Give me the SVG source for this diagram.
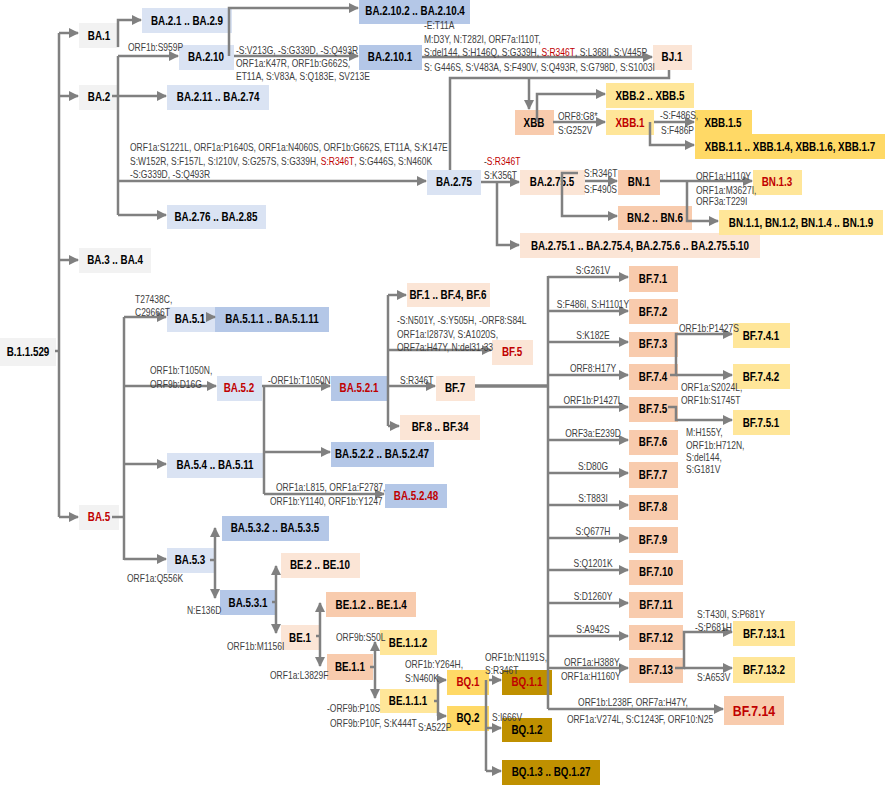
<svg xmlns="http://www.w3.org/2000/svg" width="887" height="786" viewBox="0 0 887 786">
<style>
text{font-family:"Liberation Sans",Arial,sans-serif;transform-box:fill-box}
.n{font-size:12px;font-weight:bold;text-anchor:middle;fill:#000;transform-origin:center;transform:scaleX(.82)}
.r{fill:#c00000}
.l{font-size:10px;fill:#404040;transform-origin:left center;transform:scaleX(.85)}
.l.m{text-anchor:middle;transform-origin:center}
.gr{fill:#f2f2f2}.lb{fill:#dae3f3}.mb{fill:#b4c7e7}.lp{fill:#fbe5d6}.pe{fill:#f8cbad}.lg{fill:#ffe699}.go{fill:#ffd966}.dg{fill:#bf9000}
.c path{fill:none;stroke:#808080;stroke-width:2.5}
.c path.a{marker-end:url(#ar)}
.c path.t{stroke-width:3.5}
</style>
<defs><marker id="ar" markerUnits="userSpaceOnUse" markerWidth="10" markerHeight="10" viewBox="0 0 10 10" refX="9" refY="5" orient="auto"><path d="M0,0L10,5L0,10z" fill="#808080"/></marker></defs>
<rect width="887" height="786" fill="#fff"/>
<g id="nodes">
<g id="n-root"><rect class="gr" x="0" y="338" width="56" height="28"/><text class="n" x="28" y="356">B.1.1.529</text></g>
<g id="n-ba1"><rect class="gr" x="79" y="23" width="40" height="25"/><text class="n" x="99" y="40">BA.1</text></g>
<g id="n-ba2"><rect class="gr" x="79" y="85" width="40" height="25"/><text class="n" x="99" y="101">BA.2</text></g>
<g id="n-ba34"><rect class="gr" x="79" y="248" width="72" height="25"/><text class="n" x="115" y="264">BA.3 .. BA.4</text></g>
<g id="n-ba5"><rect class="gr" x="79" y="505" width="40" height="25"/><text class="n r" x="99" y="521">BA.5</text></g>
<g id="n-ba21"><rect class="lb" x="142" y="8" width="90" height="25"/><text class="n" x="187" y="25">BA.2.1 .. BA.2.9</text></g>
<g id="n-ba210"><rect class="lb" x="179" y="45" width="55" height="25"/><text class="n" x="206" y="61">BA.2.10</text></g>
<g id="n-ba211"><rect class="lb" x="167" y="85" width="102" height="25"/><text class="n" x="218" y="101">BA.2.11 .. BA.2.74</text></g>
<g id="n-ba2102"><rect class="mb" x="359" y="0" width="111" height="24"/><text class="n" x="415" y="15">BA.2.10.2 .. BA.2.10.4</text></g>
<g id="n-ba2101"><rect class="mb" x="359" y="45" width="63" height="25"/><text class="n" x="390" y="61">BA.2.10.1</text></g>
<g id="n-bj1"><rect class="lp" x="653" y="45" width="39" height="25"/><text class="n" x="672" y="61">BJ.1</text></g>
<g id="n-ba275"><rect class="lb" x="427" y="170" width="54" height="25"/><text class="n" x="454" y="186">BA.2.75</text></g>
<g id="n-ba276"><rect class="lb" x="167" y="205" width="99" height="24"/><text class="n" x="216" y="221">BA.2.76 .. BA.2.85</text></g>
<g id="n-xbb"><rect class="pe" x="515" y="110" width="39" height="25"/><text class="n" x="534" y="127">XBB</text></g>
<g id="n-xbb2"><rect class="lg" x="606" y="83" width="88" height="25"/><text class="n" x="650" y="100">XBB.2 .. XBB.5</text></g>
<g id="n-xbb1"><rect class="lg" x="606" y="110" width="48" height="25"/><text class="n r" x="630" y="127">XBB.1</text></g>
<g id="n-xbb15"><rect class="go" x="695" y="110" width="57" height="25"/><text class="n" x="723" y="127">XBB.1.5</text></g>
<g id="n-xbb11"><rect class="go" x="695" y="134" width="190" height="25"/><text class="n" x="790" y="151">XBB.1.1 .. XBB.1.4, XBB.1.6, XBB.1.7</text></g>
<g id="n-ba2755"><rect class="lp" x="520" y="170" width="65" height="25"/><text class="n" x="552" y="186">BA.2.75.5</text></g>
<g id="n-ba2751"><rect class="lp" x="520" y="233" width="240" height="25"/><text class="n" x="640" y="250">BA.2.75.1 .. BA.2.75.4, BA.2.75.6 .. BA.2.75.5.10</text></g>
<g id="n-bn1"><rect class="pe" x="618" y="170" width="42" height="25"/><text class="n" x="639" y="186">BN.1</text></g>
<g id="n-bn2"><rect class="pe" x="618" y="206" width="74" height="24"/><text class="n" x="655" y="222">BN.2 .. BN.6</text></g>
<g id="n-bn13"><rect class="lg" x="753" y="170" width="49" height="25"/><text class="n r" x="777" y="186">BN.1.3</text></g>
<g id="n-bn11"><rect class="lg" x="719" y="210" width="164" height="25"/><text class="n" x="801" y="227">BN.1.1, BN.1.2, BN.1.4 .. BN.1.9</text></g>
<g id="n-ba51"><rect class="lb" x="167" y="307" width="48" height="25"/><text class="n" x="190" y="323">BA.5.1</text></g>
<g id="n-ba511"><rect class="mb" x="215" y="307" width="114" height="25"/><text class="n" x="272" y="323">BA.5.1.1 .. BA.5.1.11</text></g>
<g id="n-ba52"><rect class="lb" x="217" y="376" width="45" height="25"/><text class="n r" x="239" y="392">BA.5.2</text></g>
<g id="n-ba521"><rect class="mb" x="331" y="376" width="57" height="25"/><text class="n r" x="359" y="392">BA.5.2.1</text></g>
<g id="n-ba522"><rect class="mb" x="331" y="442" width="103" height="25"/><text class="n" x="382" y="458">BA.5.2.2 .. BA.5.2.47</text></g>
<g id="n-ba5248"><rect class="mb" x="385" y="484" width="62" height="24"/><text class="n r" x="416" y="500">BA.5.2.48</text></g>
<g id="n-ba54"><rect class="lb" x="167" y="453" width="97" height="25"/><text class="n" x="215" y="469">BA.5.4 .. BA.5.11</text></g>
<g id="n-bf1"><rect class="lp" x="407" y="283" width="83" height="24"/><text class="n" x="448" y="299">BF.1 .. BF.4, BF.6</text></g>
<g id="n-bf5"><rect class="lp" x="492" y="340" width="41" height="25"/><text class="n r" x="512" y="356">BF.5</text></g>
<g id="n-bf7"><rect class="lp" x="436" y="376" width="39" height="25"/><text class="n" x="455" y="392">BF.7</text></g>
<g id="n-bf8"><rect class="lp" x="400" y="415" width="80" height="25"/><text class="n" x="440" y="431">BF.8 .. BF.34</text></g>
<g id="n-bf71"><rect class="pe" x="629" y="266" width="49" height="26"/><text class="n" x="653" y="283">BF.7.1</text></g>
<g id="n-bf72"><rect class="pe" x="629" y="299" width="49" height="25"/><text class="n" x="653" y="316">BF.7.2</text></g>
<g id="n-bf73"><rect class="pe" x="629" y="332" width="49" height="25"/><text class="n" x="653" y="348">BF.7.3</text></g>
<g id="n-bf74"><rect class="pe" x="629" y="364" width="49" height="26"/><text class="n" x="653" y="381">BF.7.4</text></g>
<g id="n-bf75"><rect class="pe" x="629" y="397" width="49" height="25"/><text class="n" x="653" y="413">BF.7.5</text></g>
<g id="n-bf76"><rect class="pe" x="629" y="430" width="49" height="25"/><text class="n" x="653" y="446">BF.7.6</text></g>
<g id="n-bf77"><rect class="pe" x="629" y="462" width="49" height="26"/><text class="n" x="653" y="479">BF.7.7</text></g>
<g id="n-bf78"><rect class="pe" x="629" y="495" width="49" height="25"/><text class="n" x="653" y="511">BF.7.8</text></g>
<g id="n-bf79"><rect class="pe" x="629" y="527" width="49" height="26"/><text class="n" x="653" y="544">BF.7.9</text></g>
<g id="n-bf710"><rect class="pe" x="629" y="560" width="54" height="25"/><text class="n" x="656" y="576">BF.7.10</text></g>
<g id="n-bf711"><rect class="pe" x="629" y="592" width="54" height="26"/><text class="n" x="656" y="609">BF.7.11</text></g>
<g id="n-bf712"><rect class="pe" x="629" y="625" width="54" height="25"/><text class="n" x="656" y="642">BF.7.12</text></g>
<g id="n-bf713"><rect class="pe" x="629" y="658" width="54" height="25"/><text class="n" x="656" y="674">BF.7.13</text></g>
<g id="n-bf714"><rect class="pe" x="724" y="696" width="60" height="29"/><text class="n r" x="754" y="716" style="font-size:15px">BF.7.14</text></g>
<g id="n-bf741"><rect class="lg" x="733" y="323" width="57" height="25"/><text class="n" x="761" y="340">BF.7.4.1</text></g>
<g id="n-bf742"><rect class="lg" x="733" y="364" width="57" height="25"/><text class="n" x="761" y="381">BF.7.4.2</text></g>
<g id="n-bf751"><rect class="lg" x="733" y="410" width="57" height="25"/><text class="n" x="761" y="427">BF.7.5.1</text></g>
<g id="n-bf7131"><rect class="lg" x="733" y="621" width="62" height="25"/><text class="n" x="764" y="638">BF.7.13.1</text></g>
<g id="n-bf7132"><rect class="lg" x="733" y="657" width="62" height="26"/><text class="n" x="764" y="674">BF.7.13.2</text></g>
<g id="n-ba53"><rect class="lb" x="167" y="548" width="47" height="25"/><text class="n" x="190" y="564">BA.5.3</text></g>
<g id="n-ba532"><rect class="mb" x="222" y="516" width="107" height="25"/><text class="n" x="275" y="532">BA.5.3.2 .. BA.5.3.5</text></g>
<g id="n-ba531"><rect class="mb" x="220" y="590" width="57" height="25"/><text class="n" x="248" y="607">BA.5.3.1</text></g>
<g id="n-be2"><rect class="lp" x="281" y="553" width="79" height="25"/><text class="n" x="320" y="569">BE.2 .. BE.10</text></g>
<g id="n-be1"><rect class="lp" x="281" y="625" width="39" height="25"/><text class="n" x="300" y="642">BE.1</text></g>
<g id="n-be12"><rect class="pe" x="326" y="592" width="90" height="25"/><text class="n" x="371" y="609">BE.1.2 .. BE.1.4</text></g>
<g id="n-be11"><rect class="pe" x="327" y="654" width="46" height="26"/><text class="n" x="350" y="671">BE.1.1</text></g>
<g id="n-be112"><rect class="lg" x="380" y="630" width="57" height="25"/><text class="n" x="408" y="647">BE.1.1.2</text></g>
<g id="n-be111"><rect class="lg" x="380" y="689" width="57" height="24"/><text class="n" x="408" y="705">BE.1.1.1</text></g>
<g id="n-bq1"><rect class="go" x="447" y="670" width="42" height="25"/><text class="n r" x="468" y="686">BQ.1</text></g>
<g id="n-bq2"><rect class="go" x="447" y="706" width="42" height="25"/><text class="n" x="468" y="722">BQ.2</text></g>
<g id="n-bq11"><rect class="dg" x="502" y="670" width="50" height="25"/><text class="n r" x="527" y="686">BQ.1.1</text></g>
<g id="n-bq12"><rect class="dg" x="502" y="718" width="50" height="24"/><text class="n" x="527" y="734">BQ.1.2</text></g>
<g id="n-bq13"><rect class="dg" x="502" y="760" width="98" height="25"/><text class="n" x="551" y="776">BQ.1.3 .. BQ.1.27</text></g>
</g>
<g id="connectors" class="c">
<path d="M55,351H59"/><path d="M59,33V517"/>
<path class="a" d="M59,33H78"/><path class="a" d="M59,96H78"/><path class="a" d="M59,260H78"/><path class="a" d="M59,517H78"/>
<path class="a" d="M118,47V20H141"/><path class="a" d="M112,96H166"/>
<path d="M118,56V215"/><path class="a" d="M118,56H178"/><path class="a" d="M118,181H426"/><path class="a" d="M118,215H166"/>
<path class="a" d="M229,56V8H358"/><path class="a" d="M234,56H358"/>
<path class="a" d="M422,57H652"/>
<path d="M669,70V78H450V170"/><path class="a" d="M529,78V109"/>
<path class="a" d="M537,122V94H605"/><path class="a" d="M553,122H605"/>
<path class="a" d="M654,122H694"/><path class="a" d="M650,122V145H694"/>
<path class="a" d="M481,182H519"/><path class="a" d="M497,182V245H519"/>
<path class="a" d="M585,181H617"/><path class="a" d="M578,173H562V216H617"/>
<path class="a" d="M660,181H752"/><path class="a" d="M687,181V221H718"/>
<path d="M112,517H124"/><path d="M124,317V560"/>
<path class="a" d="M124,317H166"/><path class="a" d="M124,386H216"/><path class="a" d="M124,464H166"/><path class="a" d="M124,559H166"/>
<path class="a" d="M208,317H215"/>
<path class="a" d="M262,386H330"/><path d="M264,386V494"/><path class="a" d="M264,452H330"/><path class="a" d="M264,494H384"/>
<path class="a" d="M388,386H435"/><path d="M388,295V426"/><path class="a" d="M388,295H406"/><path class="a" d="M388,350H491"/><path class="a" d="M388,426H399"/>
<path class="t" d="M475,386H548"/><path d="M548,276V709"/>
<path class="a" d="M548,277H628"/><path class="a" d="M548,311H628"/><path class="a" d="M548,342H628"/><path class="a" d="M548,375H628"/><path class="a" d="M548,407H628"/><path class="a" d="M548,440H628"/><path class="a" d="M548,473H628"/><path class="a" d="M548,505H628"/><path class="a" d="M548,538H628"/><path class="a" d="M548,570H628"/><path class="a" d="M548,603H628"/><path class="a" d="M548,636H628"/><path class="a" d="M548,668H628"/><path class="a" d="M548,709H723"/>
<path class="a" d="M670,375H676V334H732"/><path class="a" d="M676,375H732"/>
<path class="a" d="M668,407H676V420H732"/>
<path class="a" d="M675,668H684V632H732"/><path class="a" d="M684,668H732"/>
<path d="M210,560H215"/><path class="a" d="M215,560V528"/><path class="a" d="M215,560V598"/>
<path d="M272,602H276"/><path class="a" d="M276,602V566"/><path class="a" d="M276,602V633"/>
<path d="M316,636H320"/><path class="a" d="M320,636V603"/><path class="a" d="M320,636V666"/>
<path d="M370,667H375"/><path class="a" d="M375,667V642"/><path class="a" d="M375,667V698"/>
<path d="M434,701H438"/><path d="M438,680V716"/><path class="a" d="M438,680H446"/><path class="a" d="M438,716H446"/>
<path class="a" d="M489,680H501"/><path d="M486,680V771"/><path class="a" d="M486,728H501"/><path class="a" d="M486,771H501"/>
</g>
<g id="labels">
<text class="l" x="128" y="51">ORF1b:S959P</text>
<text class="l" x="236" y="54">-S:V213G, -S:G339D, -S:Q493R</text>
<text class="l" x="236" y="67">ORF1a:K47R, ORF1b:G662S,</text>
<text class="l" x="236" y="80">ET11A, S:V83A, S:Q183E, SV213E</text>
<text class="l" x="424" y="29">-E:T11A</text>
<text class="l" x="424" y="43">M:D3Y, N:T282I, ORF7a:I110T,</text>
<text class="l" x="424" y="56">S:del144, S:H146Q, S:G339H, <tspan class="r">S:R346T</tspan>, S:L368I, S:V445P</text>
<text class="l" x="424" y="71">S: G446S, S:V483A, S:F490V, S:Q493R, S:G798D, S:S1003I</text>
<text class="l" x="130" y="151">ORF1a:S1221L, ORF1a:P1640S, ORF1a:N4060S, ORF1b:G662S, ET11A, S:K147E</text>
<text class="l" x="130" y="165">S:W152R, S:F157L, S:I210V, S:G257S, S:G339H, <tspan class="r">S:R346T</tspan>, S:G446S, S:N460K</text>
<text class="l" x="130" y="178">-S:G339D, -S:Q493R</text>
<text class="l" x="558" y="120">ORF8:G8*</text><text class="l" x="558" y="134">S:G252V</text>
<text class="l" x="660" y="119">-S:F486S,</text><text class="l" x="661" y="134">S:F486P</text>
<text class="l" x="484" y="165">-<tspan class="r">S:R346T</tspan></text><text class="l" x="484" y="179">S:K356T</text>
<text class="l r" x="584" y="177">S:R346T</text><text class="l" x="584" y="193">S:F490S</text>
<text class="l" x="696" y="180">ORF1a:H110Y</text><text class="l" x="696" y="194">ORF1a:M3627I,</text><text class="l" x="696" y="205">ORF3a:T229I</text>
<text class="l" x="135" y="303">T27438C,</text><text class="l" x="135" y="316">C29666T</text>
<text class="l" x="150" y="374">ORF1b:T1050N,</text><text class="l" x="150" y="388">ORF9b:D16G</text>
<text class="l" x="268" y="384">-ORF1b:T1050N</text>
<text class="l r" x="276" y="491">ORF1a:L815, ORF1a:F2787,</text><text class="l r" x="270" y="505">ORF1b:Y1140, ORF1b:Y1247</text>
<text class="l r" x="400" y="384">S:R346T</text>
<text class="l" x="397" y="324">-S:N501Y, -S:Y505H, -ORF8:S84L</text>
<text class="l" x="397" y="338">ORF1a:I2873V, S:A1020S,</text>
<text class="l" x="397" y="351">ORF7a:H47Y, N:del31-33</text>
<text class="l m" x="593" y="274">S:G261V</text>
<text class="l m" x="593" y="308">S:F486I, S:H1101Y</text>
<text class="l m" x="593" y="339">S:K182E</text>
<text class="l m" x="593" y="372">ORF8:H17Y</text>
<text class="l m" x="593" y="404">ORF1b:P1427L</text>
<text class="l m" x="593" y="437">ORF3a:E239D</text>
<text class="l m" x="593" y="470">S:D80G</text>
<text class="l m" x="593" y="502">S:T883I</text>
<text class="l m" x="593" y="535">S:Q677H</text>
<text class="l m" x="593" y="567">S:Q1201K</text>
<text class="l m" x="593" y="600">S:D1260Y</text>
<text class="l m" x="593" y="633">S:A942S</text>
<text class="l" x="564" y="666">ORF1a:H388Y,</text><text class="l" x="561" y="680">ORF1a:H1160Y</text>
<text class="l r m" x="633" y="706">ORF1b:L238F, ORF7a:H47Y,</text>
<text class="l r m" x="640" y="723">ORF1a:V274L, S:C1243F, ORF10:N25</text>
<text class="l" x="679" y="332">ORF1b:P1427S</text>
<text class="l" x="681" y="391">ORF1a:S2024L,</text><text class="l" x="681" y="404">ORF1b:S1745T</text>
<text class="l" x="686" y="436">M:H155Y,</text><text class="l" x="686" y="449">ORF1b:H712N,</text><text class="l" x="686" y="461">S:del144,</text><text class="l" x="686" y="473">S:G181V</text>
<text class="l" x="697" y="618">S:T430I, S:P681Y</text><text class="l" x="695" y="631">-S:P681H</text><text class="l" x="697" y="681">S:A653V</text>
<text class="l" x="127" y="582">ORF1a:Q556K</text>
<text class="l" x="187" y="614">N:E136D</text>
<text class="l" x="227" y="650">ORF1b:M1156I</text>
<text class="l" x="270" y="679">ORF1a:L3829F</text>
<text class="l" x="336" y="641">ORF9b:S50L</text>
<text class="l" x="327" y="712">-ORF9b:P10S</text><text class="l" x="330" y="727">ORF9b:P10F, S:K444T</text>
<text class="l" x="405" y="668">ORF1b:Y264H,</text><text class="l" x="405" y="682">S:N460K</text><text class="l" x="418" y="731">S:A522P</text>
<text class="l" x="485" y="661">ORF1b:N1191S,</text><text class="l r" x="485" y="674">S:R346T</text><text class="l" x="492" y="721">S:I666V</text>
</g>
</svg>
